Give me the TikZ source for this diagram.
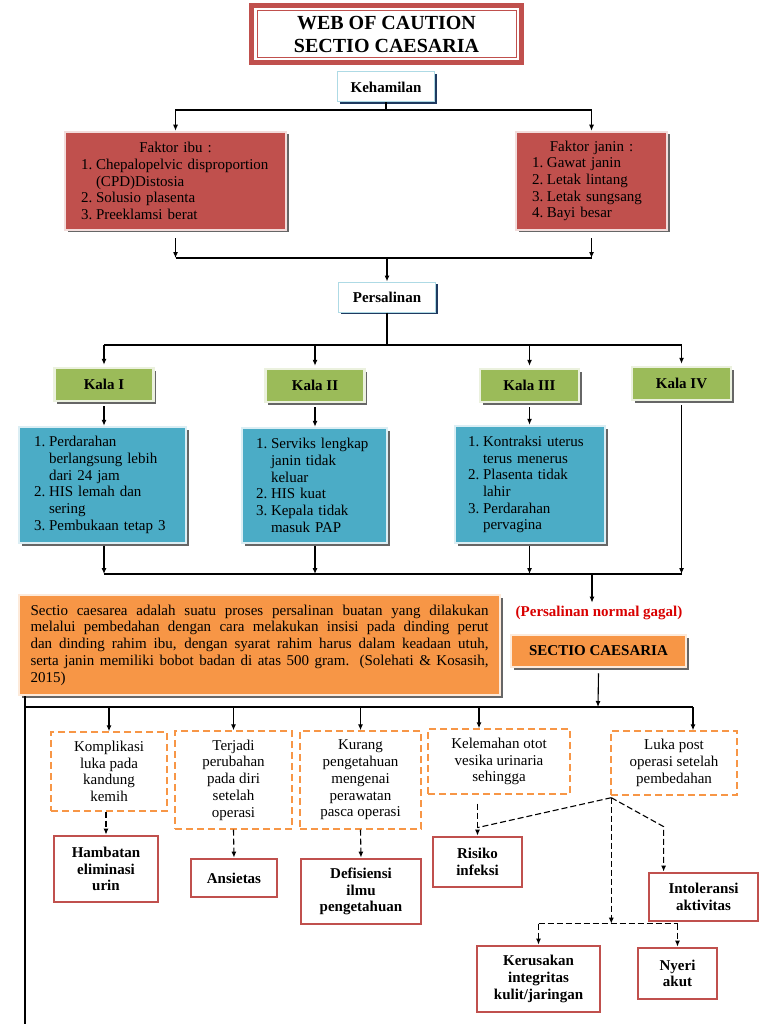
\documentclass[tikz,border=0pt]{standalone}
\usepackage{fontspec}
\setmainfont{Liberation Serif}
\usetikzlibrary{positioning, arrows.meta, calc, shadows}
\definecolor{ocred}{HTML}{C0504D}
\definecolor{ocgreen}{HTML}{9BBB59}
\definecolor{ocblue}{HTML}{4BACC6}
\definecolor{ocorange}{HTML}{F79646}
\definecolor{ocnavy}{HTML}{1F3A60}
\newcommand{\lnum}[2]{\mbox{\makebox[15pt][l]{#1}#2}}
\newcommand{\lcont}[1]{\mbox{\hspace*{15pt}#1}}
\tikzset{
  txt/.style={font=\fontsize{15}{16.7}\selectfont},
  bold txt/.style={font=\fontsize{15}{16.7}\selectfont\bfseries},
  shade/.style={drop shadow={shadow xshift=2.5pt, shadow yshift=-2.5pt, fill=black!60, opacity=1}},
  title box/.style={rectangle, draw=ocred, line width=1pt, fill=white, align=center,
    font=\fontsize{20}{23}\selectfont\bfseries},
  stage box/.style={rectangle, draw=ocblue!45, line width=1pt, fill=white, bold txt,
    minimum width=97pt, minimum height=30pt,
    drop shadow={shadow xshift=2pt, shadow yshift=-2pt, fill=ocnavy, opacity=1}},
  factor box/.style={rectangle, fill=ocred, draw=ocred!20, line width=2.5pt, shade, txt,
    align=left, minimum height=98pt, inner xsep=16pt},
  kala box/.style={rectangle, fill=ocgreen, draw=ocgreen!20, line width=2.5pt, shade, bold txt,
    minimum width=99pt, minimum height=33pt},
  list box/.style={rectangle, fill=ocblue, draw=ocblue!20, line width=2.5pt, shade, txt,
    align=left, inner xsep=15pt},
  info box/.style={rectangle, fill=ocorange, draw=ocorange!20, line width=2.5pt, shade, txt},
  problem box/.style={rectangle, draw=ocorange, line width=1.4pt, dash pattern=on 7pt off 4pt,
    fill=white, txt, align=center},
  diag box/.style={rectangle, draw=ocred, line width=2.8pt, fill=white, bold txt, align=center},
  link/.style={line width=1.1pt},
  flow/.style={line width=1.1pt, -{Latex[length=6pt,width=5pt]}},
  dash link/.style={link, dash pattern=on 6pt off 3pt},
  dash flow/.style={flow, dash pattern=on 6pt off 3pt},
}

\begin{document}
\begin{tikzpicture}[x=1pt, y=-1pt]
  \useasboundingbox[fill=white] (0,0) rectangle (768,1024);
  % Judul
  \node[draw=ocred, line width=4.5pt, minimum width=270pt, minimum height=57pt, shade, fill=white] (frame) at (386.5,34) {};
  \node[title box, minimum width=259pt, minimum height=47pt] (title) at (386.5,34) {WEB OF CAUTION\\SECTIO CAESARIA};
  % Kehamilan dan faktor
  \node[stage box] (keh) at (386,87) {Kehamilan};
  \node[factor box, minimum width=221pt, text width=189pt] (ibu) at (175.5,181)
    {\makebox[\linewidth][c]{Faktor ibu :}\\
     \lnum{1.}{Chepalopelvic disproportion}\\
     \lcont{(CPD)Distosia}\\
     \lnum{2.}{Solusio plasenta}\\
     \lnum{3.}{Preeklamsi berat}};
  \node[factor box, minimum width=151pt, text width=119pt] (janin) at (591.5,181)
    {\makebox[\linewidth][c]{Faktor janin :}\\
     \lnum{1.}{Gawat janin}\\
     \lnum{2.}{Letak lintang}\\
     \lnum{3.}{Letak sungsang}\\
     \lnum{4.}{Bayi besar}};
  \node[stage box] (pers) at (387,297) {Persalinan};
  % Kala
  \node[kala box] (k1) at (104,384.5) {Kala I};
  \node[kala box] (k2) at (315,385.5) {Kala II};
  \node[kala box] (k3) at (529.5,385.5) {Kala III};
  \node[kala box] (k4) at (681.5,383.5) {Kala IV};
  \node[list box, minimum width=167pt, minimum height=116pt, text width=137pt] (b1) at (102.5,485)
    {\lnum{1.}{Perdarahan}\\ \lcont{berlangsung lebih}\\ \lcont{dari 24 jam}\\
     \lnum{2.}{HIS lemah dan}\\ \lcont{sering}\\ \lnum{3.}{Pembukaan tetap 3}};
  \node[list box, minimum width=145pt, minimum height=115pt, text width=117pt, inner xsep=14pt] (b2) at (314.5,485.5)
    {\lnum{1.}{Serviks lengkap}\\ \lcont{janin tidak}\\ \lcont{keluar}\\
     \lnum{2.}{HIS kuat}\\ \lnum{3.}{Kepala tidak}\\ \lcont{masuk PAP}};
  \node[list box, minimum width=150pt, minimum height=117pt, text width=124pt, inner xsep=13pt] (b3) at (530,484.5)
    {\lnum{1.}{Kontraksi uterus}\\ \lcont{terus menerus}\\ \lnum{2.}{Plasenta tidak}\\
     \lcont{lahir}\\ \lnum{3.}{Perdarahan}\\ \lcont{pervagina}};
  % Sectio caesarea
  \node[info box, minimum width=481pt, minimum height=100pt, text width=458pt, align=justify] (info) at (259.5,645)
    {Sectio caesarea adalah suatu proses persalinan buatan yang dilakukan\linebreak
     melalui pembedahan dengan cara melakukan insisi pada dinding perut\linebreak
     dan dinding rahim ibu, dengan syarat rahim harus dalam keadaan utuh,\linebreak
     serta janin memiliki bobot badan di atas 500 gram. (Solehati \& Kosasih,\linebreak
     2015)};
  \node[bold txt, text=red!85!black] (gagal) at (599,613) {(Persalinan normal gagal)};
  \node[info box, bold txt, minimum width=175pt, minimum height=32pt] (sc) at (598.5,651) {SECTIO CAESARIA};
  % Masalah
  \node[problem box, minimum width=116pt, minimum height=79pt] (d1) at (109,771.5)
    {Komplikasi\\ luka pada\\ kandung\\ kemih};
  \node[problem box, minimum width=117pt, minimum height=98pt] (d2) at (233.5,780)
    {Terjadi\\ perubahan\\ pada diri\\ setelah\\ operasi};
  \node[problem box, minimum width=121pt, minimum height=98pt] (d3) at (360.5,780)
    {Kurang\\ pengetahuan\\ mengenai\\ perawatan\\ pasca operasi};
  \node[problem box, minimum width=142pt, minimum height=65pt] (d4) at (499,761.5)
    {Kelemahan otot\\ vesika urinaria\\ sehingga};
  \node[problem box, minimum width=126pt, minimum height=64pt] (d5) at (674,763)
    {Luka post\\ operasi setelah\\ pembedahan};
  % Diagnosa
  \node[diag box, minimum width=104pt, minimum height=66pt] (hamb) at (106,869) {Hambatan\\ eliminasi\\ urin};
  \node[diag box, minimum width=86pt, minimum height=38pt] (ans) at (234,878) {Ansietas};
  \node[diag box, minimum width=120pt, minimum height=65pt] (def) at (361,891.5) {Defisiensi\\ ilmu\\ pengetahuan};
  \node[diag box, minimum width=89pt, minimum height=50pt] (ris) at (477.5,862) {Risiko\\ infeksi};
  \node[diag box, minimum width=109pt, minimum height=48pt] (int) at (703.5,897) {Intoleransi\\ aktivitas};
  \node[diag box, minimum width=123pt, minimum height=66pt] (kerus) at (538.5,979) {Kerusakan\\ integritas\\ kulit/jaringan};
  \node[diag box, minimum width=79pt, minimum height=51pt] (nyeri) at (677.5,973.5) {Nyeri\\ akut};
  % Titik cabang
  \coordinate (kj) at (386,110);
  \coordinate (pj) at (387,258);
  \coordinate (kl) at (387,345);
  \coordinate (kc) at (592,574);
  \coordinate (sj) at (598,707);
  \coordinate (sl) at (25,707);
  \coordinate (lb) at (25,1024);
  \coordinate (a4) at ($(d4.north)+(-20,0)$);
  \coordinate (a5) at ($(d5.north)+(19,0)$);
  \coordinate (r4) at ($(d4.south -| ris.north)+(0,9)$);
  \coordinate (fan) at ($(d5.south west)+(1,2)$);
  \coordinate (rbend) at ($(ris.north)+(0,-8)$);
  \coordinate (ibend) at ($(int.north west)+(16,-45)$);
  \coordinate (bj) at ($(fan)+(0,126)$);
  % Garis
  \draw[link] (keh.south) -- (kj);
  \draw[flow] (kj) -| (ibu.north);
  \draw[flow] (kj) -| (janin.north);
  \draw[flow] ([yshift=-7pt]ibu.south) -- (ibu.south |- pj);
  \draw[flow] ([yshift=-7pt]janin.south) -- (janin.south |- pj);
  \draw[link] (ibu.south |- pj) -- (janin.south |- pj);
  \draw[flow] (pj) -- (pers.north);
  \draw[link] (pers.south) -- (kl);
  \draw[link] (k1.north |- kl) -- (k4.north |- kl);
  \foreach \k in {k1,k2,k3,k4}
    \draw[flow] (\k.north |- kl) -- ([yshift=2pt]\k.north);
  \foreach \k/\b in {k1/b1,k2/b2,k3/b3}
    \draw[flow] ([yshift=-4pt]\k.south) -- (\k.south |- \b.north);
  \foreach \k/\b in {k1/b1,k2/b2,k3/b3}
    \draw[flow] ([yshift=-2pt]\k.south |- \b.south) -- (\k.south |- kc);
  \draw[flow] ([yshift=-4pt]k4.south) -- (k4.south |- kc);
  \draw[link] (k1.south |- kc) -- (k4.south |- kc);
  \draw[flow] (kc) -- (kc |- gagal.north);
  \draw[flow] ([yshift=-5pt]sc.south) -- (sj);
  \draw[link] (info.south -| lb) -- (lb);
  \draw[link] (sl) -- (a5 |- sj);
  \foreach \d in {d1,d2,d3}
    \draw[flow] (\d.north |- sj) -- (\d.north);
  \draw[flow] (a4 |- sj) -- (a4);
  \draw[flow] (a5 |- sj) -- (a5);
  \draw[dash flow] (hamb.north |- d1.south) -- (hamb.north);
  \draw[dash flow] (d2.south) -- (ans.north);
  \draw[dash flow] (d3.south) -- (def.north);
  \draw[dash flow] (r4) -- (ris.north);
  \draw[dash link] (fan) -- (rbend);
  \draw[dash flow] (fan) -- (ibend) -- (ibend |- int.north);
  \draw[dash flow] (fan) -- (bj);
  \draw[dash link] (kerus.north |- bj) -- (nyeri.north |- bj);
  \draw[dash flow] (kerus.north |- bj) -- (kerus.north);
  \draw[dash flow] (nyeri.north |- bj) -- (nyeri.north);
\end{tikzpicture}
\end{document}
